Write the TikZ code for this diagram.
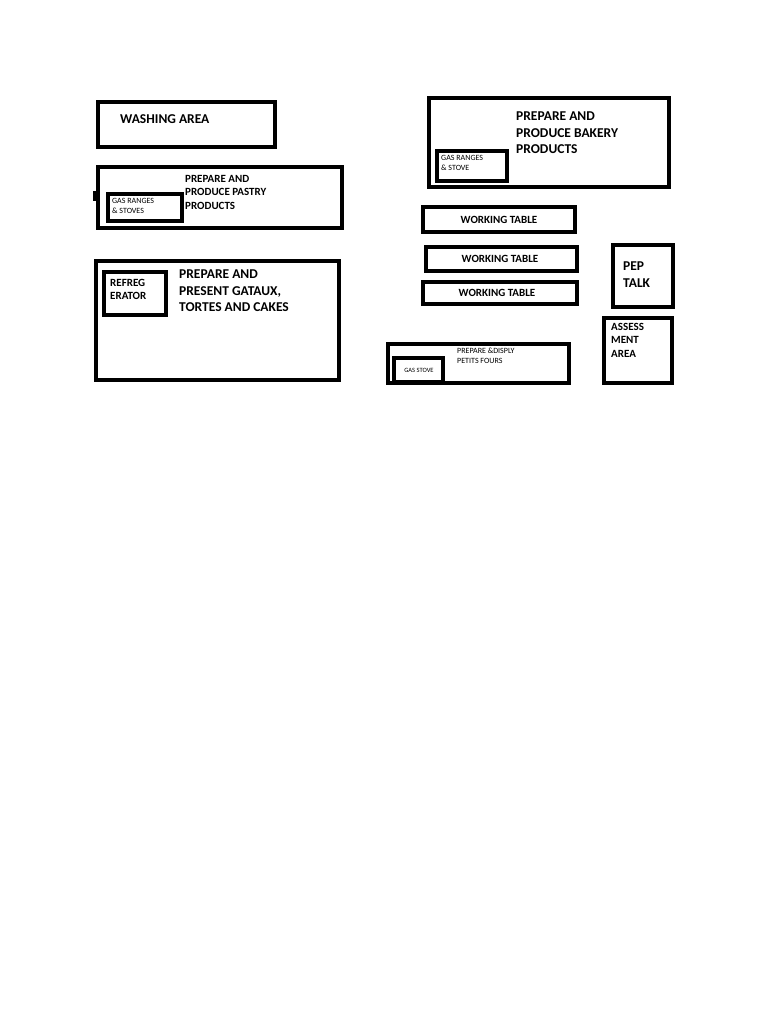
\documentclass[tikz,border=0pt]{standalone}
\usepackage{fontspec}
\setmainfont{Carlito}
\begin{document}
\begin{tikzpicture}[x=1pt,y=-1pt,
  box/.style={draw,line width=3.2pt},
  big/.style={anchor=north west,align=left,inner sep=0pt,font=\bfseries\fontsize{13.5}{16.5}\selectfont},
  mid/.style={anchor=north west,align=left,inner sep=0pt,font=\bfseries\fontsize{11}{13.5}\selectfont},
  small/.style={anchor=north west,align=left,inner sep=0pt,font=\fontsize{8}{10}\selectfont},
  tiny/.style={anchor=center,inner sep=0pt,font=\fontsize{6.5}{8}\selectfont}]
\useasboundingbox[fill=white] (0,0) rectangle (768,1024);
% washing area
\draw[box] (98,102) rectangle (275,147);
\node[big] (wash) at (120,114) {WASHING AREA};
% pastry
\draw[box] (98,167) rectangle (342,228);
\draw[box] (108,194) rectangle (182,221);
\fill (93,191) rectangle (99,201);
\node[small] (gr1) at (112,198) {GAS RANGES\\\& STOVES};
\node[mid] (pastry) at (185,175) {PREPARE AND\\PRODUCE PASTRY\\PRODUCTS};
% gataux
\draw[box] (96,261) rectangle (339,380);
\draw[box] (104,272) rectangle (166,315);
\node[mid] (ref) at (110,279) {REFREG\\ERATOR};
\node[big] (gat) at (179,270) {PREPARE AND\\PRESENT GATAUX,\\TORTES AND CAKES};
% bakery
\draw[box] (429,98) rectangle (669,187);
\draw[box] (437,151) rectangle (507,181);
\node[small] (gr2) at (441,155) {GAS RANGES\\\& STOVE};
\node[big] (bak) at (516,112) {PREPARE AND\\PRODUCE BAKERY\\PRODUCTS};
% working tables
\draw[box] (423,207) rectangle (575,232);
\node[mid] (wt1) at (499,220) [anchor=center] {WORKING TABLE};
\draw[box] (426,247) rectangle (577,271);
\node[mid] (wt2) at (500,259) [anchor=center] {WORKING TABLE};
\draw[box] (423,282) rectangle (577,304);
\node[mid] (wt3) at (497,293) [anchor=center] {WORKING TABLE};
% petits fours
\draw[box] (388,344) rectangle (569,383);
\draw[box] (394,358) rectangle (443,382);
\node[tiny] (gs) at (419,370) {GAS STOVE};
\node[small] (pf) at (457,348) {PREPARE \&DISPLY\\PETITS FOURS};
% pep talk
\draw[box] (613,245) rectangle (673,307);
\node[big] (pep) at (623,262) {PEP\\TALK};
% assess
\draw[box] (604,318) rectangle (672,383);
\node[mid] (ass) at (611,323) {ASSESS\\MENT\\AREA};
\end{tikzpicture}
\end{document}
